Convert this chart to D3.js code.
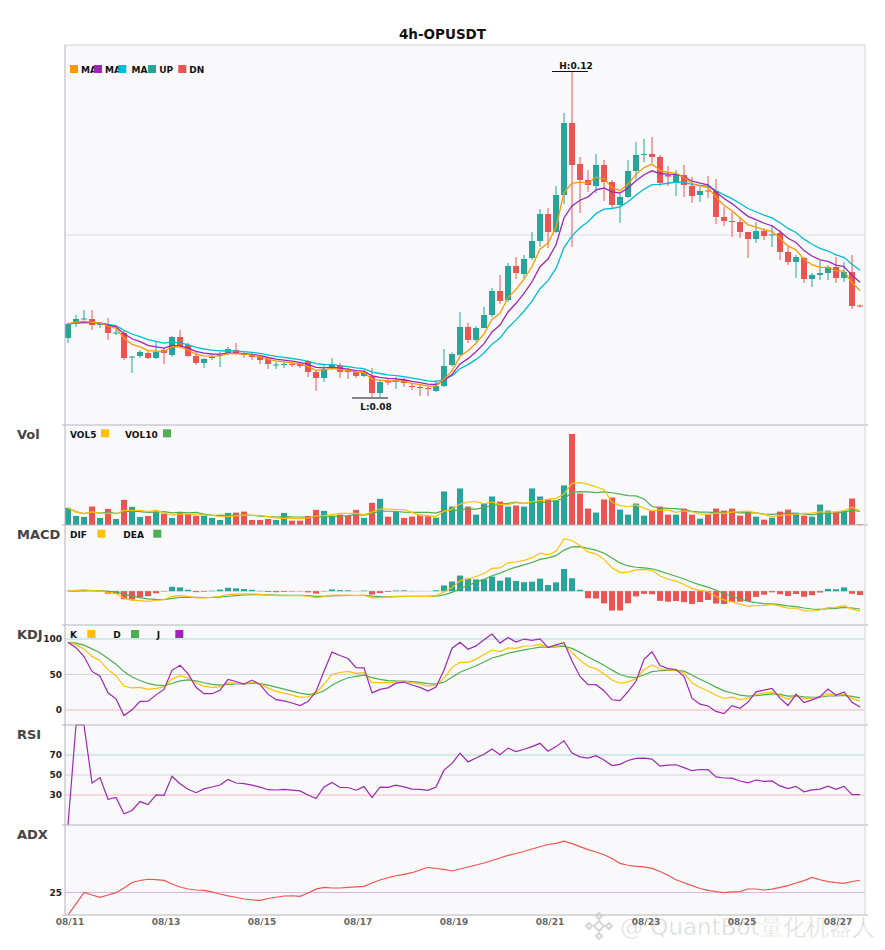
<!DOCTYPE html>
<html>
<head>
<meta charset="utf-8">
<script src="https://cdn.jsdelivr.net/npm/d3@7"></script>
<style>
  body { margin: 0; background: #fff; }
  text { font-family: "DejaVu Sans", sans-serif; }
</style>
</head>
<body>
<svg id="chart" width="885" height="950"></svg>
<script>
// 4h candles, OPUSDT, 08/11 .. 08/27
const opens = [
  0.08732, 0.08917, 0.08966, 0.08966, 0.08892, 0.08880, 0.08788, 0.08794, 0.08492, 0.08511,
  0.08548, 0.08486, 0.08585, 0.08523, 0.08745, 0.08646, 0.08511, 0.08425, 0.08486, 0.08511,
  0.08548, 0.08585, 0.08548, 0.08535, 0.08498, 0.08474, 0.08400, 0.08406, 0.08412, 0.08412,
  0.08449, 0.08314, 0.08240, 0.08363, 0.08388, 0.08338, 0.08314, 0.08265, 0.08265, 0.08055,
  0.08203, 0.08191, 0.08215, 0.08142, 0.08129, 0.08117, 0.08080, 0.08142, 0.08400, 0.08523,
  0.08868, 0.08708, 0.08855, 0.09015, 0.09311, 0.09200, 0.09618, 0.09520, 0.09717, 0.09926,
  0.10258, 0.10037, 0.10492, 0.11378, 0.10874, 0.10677, 0.10603, 0.10862, 0.10652, 0.10369,
  0.10468, 0.10788, 0.10985, 0.10997, 0.10960, 0.10738, 0.10640, 0.10738, 0.10603, 0.10492,
  0.10548, 0.10542, 0.10222, 0.10172, 0.10160, 0.10037, 0.09951, 0.10049, 0.10000, 0.10025,
  0.09791, 0.09668, 0.09717, 0.09458, 0.09508, 0.09532, 0.09606, 0.09471, 0.09545, 0.09132
];
const highs = [
  0.08917, 0.09015, 0.09077, 0.09077, 0.08917, 0.08978, 0.08855, 0.08831, 0.08511, 0.08585,
  0.08585, 0.08683, 0.08609, 0.08757, 0.08831, 0.08671, 0.08560, 0.08486, 0.08523, 0.08560,
  0.08622, 0.08671, 0.08560, 0.08548, 0.08523, 0.08486, 0.08437, 0.08437, 0.08431, 0.08437,
  0.08462, 0.08338, 0.08400, 0.08486, 0.08425, 0.08363, 0.08338, 0.08338, 0.08363, 0.08215,
  0.08228, 0.08252, 0.08240, 0.08178, 0.08154, 0.08142, 0.08215, 0.08597, 0.08554, 0.09052,
  0.08917, 0.08880, 0.09114, 0.09348, 0.09508, 0.09655, 0.09729, 0.09754, 0.10037, 0.10320,
  0.10332, 0.10603, 0.11502, 0.12006, 0.10960, 0.10800, 0.10997, 0.10923, 0.10677, 0.10505,
  0.10923, 0.11145, 0.11182, 0.11206, 0.10985, 0.10849, 0.10800, 0.10862, 0.10714, 0.10591,
  0.10726, 0.10689, 0.10345, 0.10283, 0.10209, 0.10037, 0.10160, 0.10086, 0.10123, 0.10062,
  0.09852, 0.09754, 0.09729, 0.09532, 0.09680, 0.09631, 0.09729, 0.09668, 0.09754, 0.09145
];
const lows = [
  0.08671, 0.08868, 0.08954, 0.08831, 0.08855, 0.08708, 0.08769, 0.08462, 0.08302, 0.08486,
  0.08474, 0.08474, 0.08412, 0.08498, 0.08609, 0.08498, 0.08400, 0.08363, 0.08462, 0.08375,
  0.08523, 0.08523, 0.08486, 0.08462, 0.08412, 0.08351, 0.08351, 0.08363, 0.08375, 0.08363,
  0.08252, 0.08080, 0.08191, 0.08338, 0.08240, 0.08228, 0.08240, 0.08252, 0.08006, 0.08006,
  0.08154, 0.08105, 0.08129, 0.08092, 0.08018, 0.08018, 0.08068, 0.08129, 0.08379, 0.08523,
  0.08671, 0.08683, 0.08855, 0.08991, 0.09151, 0.09175, 0.09458, 0.09471, 0.09692, 0.09852,
  0.09840, 0.10025, 0.10382, 0.09852, 0.10271, 0.10529, 0.10517, 0.10418, 0.10320, 0.10148,
  0.10455, 0.10689, 0.10898, 0.10886, 0.10603, 0.10603, 0.10480, 0.10468, 0.10394, 0.10406,
  0.10455, 0.10135, 0.10111, 0.09975, 0.09963, 0.09717, 0.09902, 0.09938, 0.09852, 0.09692,
  0.09631, 0.09471, 0.09409, 0.09360, 0.09446, 0.09446, 0.09409, 0.09422, 0.09089, 0.09108
];
const closes = [
  0.08905, 0.08966, 0.08972, 0.08892, 0.08905, 0.08794, 0.08800, 0.08486, 0.08505, 0.08560,
  0.08486, 0.08560, 0.08548, 0.08745, 0.08622, 0.08511, 0.08425, 0.08474, 0.08498, 0.08523,
  0.08597, 0.08535, 0.08523, 0.08498, 0.08462, 0.08412, 0.08406, 0.08412, 0.08400, 0.08388,
  0.08314, 0.08240, 0.08351, 0.08400, 0.08314, 0.08314, 0.08265, 0.08302, 0.08055, 0.08191,
  0.08185, 0.08215, 0.08178, 0.08129, 0.08123, 0.08105, 0.08142, 0.08388, 0.08535, 0.08868,
  0.08708, 0.08855, 0.09015, 0.09311, 0.09188, 0.09618, 0.09532, 0.09705, 0.09926, 0.10258,
  0.10037, 0.10492, 0.11378, 0.10862, 0.10677, 0.10615, 0.10862, 0.10652, 0.10369, 0.10468,
  0.10788, 0.10985, 0.10997, 0.10960, 0.10640, 0.10720, 0.10738, 0.10615, 0.10480, 0.10542,
  0.10542, 0.10222, 0.10172, 0.10166, 0.10037, 0.09951, 0.10049, 0.09988, 0.10006, 0.09791,
  0.09668, 0.09729, 0.09458, 0.09508, 0.09532, 0.09606, 0.09471, 0.09545, 0.09126, 0.09126
];
// volume, millions
const volumes = [
  1.70, 0.90, 0.80, 1.83, 0.70, 1.60, 0.60, 2.50, 1.80, 0.80,
  0.90, 1.33, 1.13, 0.70, 1.30, 1.10, 0.90, 0.90, 0.70, 0.50,
  1.20, 1.23, 1.33, 0.50, 0.50, 0.60, 0.50, 1.20, 0.43, 0.43,
  0.90, 1.50, 1.40, 0.93, 1.03, 0.93, 1.50, 0.70, 2.20, 2.60,
  0.83, 1.30, 0.70, 0.83, 1.03, 0.87, 0.73, 3.33, 1.83, 3.63,
  1.83, 1.03, 2.13, 2.83, 2.33, 1.83, 1.93, 1.83, 3.63, 2.83,
  2.53, 2.43, 3.93, 9.03, 3.13, 1.63, 1.23, 2.53, 2.73, 1.53,
  1.03, 2.13, 0.93, 1.43, 1.83, 1.03, 1.03, 1.63, 1.03, 0.63,
  1.03, 1.63, 1.43, 1.63, 0.93, 1.23, 0.83, 0.53, 0.73, 1.33,
  1.53, 1.23, 0.93, 0.83, 2.03, 1.43, 1.33, 1.43, 2.63, 0.07
];
// ADX as drawn on the reference
const adx = [
  0, 12.4, 25, 22.2, 19.7, 22.2, 24.8, 30, 36.1, 38.3,
  39.7, 39.4, 38.4, 34.4, 31.1, 28.9, 27.8, 27.3, 25.6, 23.3,
  21.3, 19.7, 17.8, 16.7, 16.3, 18.3, 19.7, 21.1, 21.4, 20.8,
  24.4, 28.7, 30.7, 30, 30, 30.8, 31.3, 31.9, 35.6, 38.9,
  41.4, 43.6, 45.2, 47, 50, 53, 51.7, 50.6, 48.9, 51.1,
  53.3, 55.6, 57.8, 60.6, 63.3, 66.3, 68.3, 70.6, 73.3, 75.8,
  78.3, 79.6, 82, 79.3, 76, 72.6, 70, 67, 62.8, 57.4,
  55.3, 54.1, 53.4, 51.8, 48.3, 44.2, 39.2, 35.8, 32.6, 29.4,
  27.3, 26.1, 24.8, 25.6, 25.9, 28.9, 28.9, 27.8, 28.8, 30.7,
  32.7, 35.6, 38.2, 41.7, 39.2, 37.1, 36, 35.2, 37.2, 38.6
];
const tickLabels = ["08/11", "08/13", "08/15", "08/17", "08/19", "08/21", "08/23", "08/25", "08/27"];
const tickIndex = [0, 12, 24, 36, 48, 60, 72, 84, 96];

const UP = "#26a69a", DN = "#ef5350";
const left = 65, right = 865;
const panels = [[45, 425], [425, 525], [525, 625], [625, 725], [725, 825], [825, 915]];

const svg = d3.select("#chart");
const n = closes.length;

const x = d3.scaleBand().domain(d3.range(n)).range([64, 864]).paddingInner(0.25).paddingOuter(0.125);
const cx = i => x(i) + x.bandwidth() / 2;

// ---- indicators ----
const ema = (a, p) => {
  const k = 2 / (p + 1), out = [];
  a.forEach((v, i) => out.push(i ? out[i - 1] + k * (v - out[i - 1]) : v));
  return out;
};
// exponential mean with weights renormalised over the points seen so far
const ewmAdj = (a, alpha) => {
  let num = 0, den = 0;
  return a.map(v => { num = v + (1 - alpha) * num; den = 1 + (1 - alpha) * den; return num / den; });
};
const sma = (a, p) => a.map((_, i) => d3.mean(a.slice(Math.max(0, i - p + 1), i + 1)));

const ma5 = ema(closes, 5), ma8 = ema(closes, 8), ma13 = ema(closes, 13);
const vol5 = sma(volumes, 5), vol10 = sma(volumes, 10);

// MACD 6/13/5
const eFast = ema(closes, 6), eSlow = ema(closes, 13);
const dif = eFast.map((v, i) => v - eSlow[i]);
const dea = ema(dif, 5);
const hist = dif.map((v, i) => 2 * (v - dea[i]));

const rsv = closes.map((c, i) => {
  const lo = d3.min(lows.slice(Math.max(0, i - 8), i + 1));
  const hi = d3.max(highs.slice(Math.max(0, i - 8), i + 1));
  return hi === lo ? 50 : (c - lo) / (hi - lo) * 100;
});
const third = a => { const o = []; a.forEach((v, i) => o.push(i ? o[i - 1] * 2 / 3 + v / 3 : v)); return o; };
const kLine = third(rsv), dLine = third(kLine);
const jLine = kLine.map((k, i) => 3 * k - 2 * dLine[i]);

const diffs = closes.slice(1).map((c, i) => c - closes[i]);
const avgGain = ewmAdj(diffs.map(d => Math.max(d, 0)), 1 / 14);
const avgLoss = ewmAdj(diffs.map(d => Math.max(-d, 0)), 1 / 14);
const rsi = [0].concat(avgGain.map((g, i) => avgLoss[i] === 0 ? 100 : 100 - 100 / (1 + g / avgLoss[i])));

// ---- scales ----
const yMain = d3.scaleLinear().domain([d3.min(lows), d3.max(highs)]).range([397, 72]);
const yVol = d3.scaleLinear().domain([0, d3.max(volumes)]).range([525, 434]);
const yMacd = d3.scaleLinear().domain(d3.extent(dif.concat(dea, hist))).range([611, 539]);
const yKdj = d3.scaleLinear().domain([0, 100]).range([710, 639]);
const yRsi = d3.scaleLinear().domain([0, 100]).range([825, 725]);
const yAdx = d3.scaleLinear().domain([0, 100]).range([915, 825]);

// ---- backgrounds ----
svg.append("g").selectAll("rect")
  .data(panels)
  .join("rect")
  .attr("x", left).attr("y", d => d[0])
  .attr("width", right - left).attr("height", d => d[1] - d[0])
  .attr("fill", "#f9f9fc");

// reference lines
const hline = (y, color) => svg.append("line")
  .attr("x1", left).attr("x2", right).attr("y1", y).attr("y2", y)
  .attr("stroke", color).attr("stroke-width", 1);

hline(235, "#dcdce2");
hline(yMacd(0), "#d6d6d6");
hline(yKdj(100), "#a9dbd7"); hline(yKdj(50), "#d3d3d3"); hline(yKdj(0), "#f6b8b8");
hline(yRsi(70), "#a9dbd7"); hline(yRsi(50), "#d3d3d3"); hline(yRsi(30), "#f6b8b8");
hline(yAdx(25), "#dcb2e2");

// ---- candles ----
const color = i => closes[i] >= opens[i] ? UP : DN;
const candles = svg.append("g");
candles.selectAll("line")
  .data(d3.range(n))
  .join("line")
  .attr("x1", cx).attr("x2", cx)
  .attr("y1", i => yMain(highs[i])).attr("y2", i => yMain(lows[i]))
  .attr("stroke", color).attr("stroke-width", 1);
candles.selectAll("rect")
  .data(d3.range(n))
  .join("rect")
  .attr("x", i => x(i))
  .attr("width", x.bandwidth())
  .attr("y", i => yMain(Math.max(opens[i], closes[i])))
  .attr("height", i => Math.max(1, Math.abs(yMain(opens[i]) - yMain(closes[i]))))
  .attr("fill", color);

const line = (data, y, stroke, w = 1.3) => svg.append("path")
  .datum(data)
  .attr("fill", "none").attr("stroke", stroke).attr("stroke-width", w)
  .attr("d", d3.line().x((d, i) => cx(i)).y(d => y(d)));

line(ma13, yMain, "#00bcd4");
line(ma8, yMain, "#9c27b0");
line(ma5, yMain, "#ff9800");

// high / low marks
const hiI = d3.maxIndex(highs), loI = d3.minIndex(lows);
const mark = (i, yLine, yText, label) => {
  svg.append("line").attr("x1", cx(i) - 20).attr("x2", cx(i) + 16)
    .attr("y1", yLine).attr("y2", yLine).attr("stroke", "#111").attr("stroke-width", 1.2);
  svg.append("text").attr("x", cx(i) + 4).attr("y", yText)
    .attr("text-anchor", "middle").attr("font-size", 9).attr("font-weight", "bold")
    .attr("fill", "#111").text(label);
};
mark(hiI, yMain(highs[hiI]) - 0.5, yMain(highs[hiI]) - 3.5, "H:" + highs[hiI].toFixed(2));
mark(loI, yMain(lows[loI]) + 1, yMain(lows[loI]) + 13, "L:" + lows[loI].toFixed(2));

// ---- volume ----
svg.append("g").selectAll("rect")
  .data(d3.range(n))
  .join("rect")
  .attr("x", i => x(i)).attr("width", x.bandwidth())
  .attr("y", i => yVol(volumes[i]))
  .attr("height", i => yVol(0) - yVol(volumes[i]))
  .attr("fill", color);
line(vol10, yVol, "#4caf50", 1.2);
line(vol5, yVol, "#ffc107", 1.2);

// ---- MACD ----
svg.append("g").selectAll("rect")
  .data(d3.range(n))
  .join("rect")
  .attr("x", i => x(i)).attr("width", x.bandwidth())
  .attr("y", i => Math.min(yMacd(0), yMacd(hist[i])))
  .attr("height", i => Math.abs(yMacd(hist[i]) - yMacd(0)))
  .attr("fill", i => hist[i] >= 0 ? UP : DN);
line(dea, yMacd, "#4caf50", 1.2);
line(dif, yMacd, "#ffc107", 1.2);

// ---- KDJ / RSI / ADX ----
line(dLine, yKdj, "#4caf50", 1.2);
line(kLine, yKdj, "#ffc107", 1.2);
line(jLine, yKdj, "#9c27b0", 1.2);
line(rsi, yRsi, "#9c27b0", 1.2);
line(adx, yAdx, "#ef5350", 1.2);

// ---- frame ----
svg.append("g").selectAll("line")
  .data(panels.slice(1).map(p => p[0]).concat([915]))
  .join("line")
  .attr("x1", 62).attr("x2", 868).attr("y1", d => d).attr("y2", d => d)
  .attr("stroke", "#b4b4bc");
svg.append("line").attr("x1", left).attr("x2", right).attr("y1", 45).attr("y2", 45).attr("stroke", "#cfcfd8");
svg.append("line").attr("x1", left).attr("x2", left).attr("y1", 45).attr("y2", 915).attr("stroke", "#b4b4bc");
svg.append("line").attr("x1", right).attr("x2", right).attr("y1", 45).attr("y2", 915).attr("stroke", "#d4d4dc");

// watermark (under the date labels, as on the reference)
const wm = svg.append("g").attr("opacity", 0.8)
  .attr("fill", "none").attr("stroke", "#cdcdcd").attr("stroke-width", 2);
const diamond = (mx, my, r) => `M${mx},${my - r}L${mx + r},${my}L${mx},${my + r}L${mx - r},${my}Z`;
wm.append("path").attr("d", [diamond(599, 926, 5), diamond(599, 916, 3), diamond(599, 936, 3),
  diamond(589, 926, 3), diamond(609, 926, 3)].join(""));
wm.append("text").attr("x", 620).attr("y", 935)
  .attr("font-family", "'Noto Sans CJK SC', 'DejaVu Sans', sans-serif")
  .attr("font-size", 23).attr("fill", "#cdcdcd").attr("stroke", "#fff").attr("stroke-width", 0.6)
  .text("@ QuantBot量化机器人");

// panel titles
const titles = [["Vol", 439], ["MACD", 539], ["KDJ", 639], ["RSI", 739], ["ADX", 839]];
svg.append("g").selectAll("text")
  .data(titles)
  .join("text")
  .attr("x", 17).attr("y", d => d[1])
  .attr("font-size", 13).attr("font-weight", "bold").attr("fill", "#444")
  .text(d => d[0]);

// y tick labels
const yTicks = [[yKdj, 100], [yKdj, 50], [yKdj, 0], [yRsi, 70], [yRsi, 50], [yRsi, 30], [yAdx, 25]];
svg.append("g").selectAll("text")
  .data(yTicks)
  .join("text")
  .attr("x", 62).attr("y", d => d[0](d[1]))
  .attr("dy", "0.35em").attr("text-anchor", "end")
  .attr("font-size", 9).attr("font-weight", "bold").attr("fill", "#222")
  .text(d => d[1]);

// x labels
svg.append("g").selectAll("text")
  .data(tickIndex)
  .join("text")
  .attr("x", i => cx(i) + 2).attr("y", 925)
  .attr("text-anchor", "middle")
  .attr("font-size", 9).attr("font-weight", "bold").attr("fill", "#666")
  .text((d, k) => tickLabels[k]);

// legends
const legend = (items, sy, ty) => items.forEach(([label, c, tx, sx]) => {
  svg.append("text").attr("x", tx).attr("y", ty)
    .attr("font-size", 9).attr("font-weight", "bold").attr("fill", "#111").text(label);
  svg.append("rect").attr("x", sx).attr("y", sy).attr("width", 8).attr("height", 8).attr("fill", c);
});
legend([["MA", "#ff9800", 81, 70], ["MA", "#9c27b0", 105, 94], ["MA", "#00bcd4", 131.5, 118.3],
        ["UP", UP, 159.3, 148], ["DN", DN, 189.3, 178.3]], 65, 72.5);
legend([["VOL5", "#ffc107", 70, 101], ["VOL10", "#4caf50", 125, 163]], 429.3, 437.5);
legend([["DIF", "#ffc107", 70, 97.3], ["DEA", "#4caf50", 123.3, 153.3]], 529.7, 537.5);
legend([["K", "#ffc107", 70, 87.3], ["D", "#4caf50", 113.3, 131], ["J", "#9c27b0", 156.7, 175.3]], 630, 637.5);

// title
svg.append("text").attr("x", 442.5).attr("y", 39).attr("text-anchor", "middle")
  .attr("font-size", 13.5).attr("font-weight", "bold").attr("fill", "#111").text("4h-OPUSDT");
</script>
</body>
</html>
